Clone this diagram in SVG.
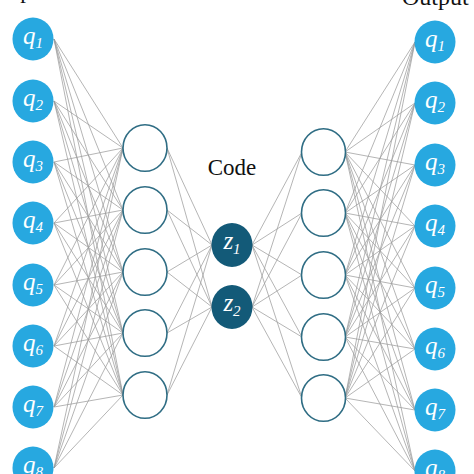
<svg xmlns="http://www.w3.org/2000/svg" width="474" height="474" viewBox="0 0 474 474">
<style>
.in{fill:#27a8e0;}
.hid{fill:#ffffff;stroke:#2f6d84;stroke-width:1.6;}
.code{fill:#135a78;}
.lbl{font-family:"Liberation Serif",serif;font-style:italic;font-size:25px;fill:#ffffff;text-anchor:middle;}
.sub{font-size:15px;}
.title{font-family:"Liberation Serif",serif;font-size:23px;fill:#111111;}
.conn{fill:none;stroke:#9c9c9c;stroke-width:0.75;}
</style>
<rect width="474" height="474" fill="#ffffff"/>
<g id="connectors" class="conn">
<path d="M54 39L123 148M54 39L123 210M54 39L123 272M54 39L123 333M54 39L123 395
M54 101L123 148M54 101L123 210M54 101L123 272M54 101L123 333M54 101L123 395
M54 162L123 148M54 162L123 210M54 162L123 272M54 162L123 333M54 162L123 395
M54 223L123 148M54 223L123 210M54 223L123 272M54 223L123 333M54 223L123 395
M54 285L123 148M54 285L123 210M54 285L123 272M54 285L123 333M54 285L123 395
M54 346L123 148M54 346L123 210M54 346L123 272M54 346L123 333M54 346L123 395
M54 407L123 148M54 407L123 210M54 407L123 272M54 407L123 333M54 407L123 395
M54 468L123 148M54 468L123 210M54 468L123 272M54 468L123 333M54 468L123 395"/>
<path d="M167 148L212 245M167 148L212 307M167 210L212 245M167 210L212 307M167 272L212 245M167 272L212 307M167 333L212 245M167 333L212 307M167 395L212 245M167 395L212 307"/>
<path d="M252 245L302 152M252 245L302 213M252 245L302 275M252 245L302 337M252 245L302 398M252 307L302 152M252 307L302 213M252 307L302 275M252 307L302 337M252 307L302 398"/>
<path d="M345 152L415 42M345 152L415 103M345 152L415 165M345 152L415 226M345 152L415 288M345 152L415 349M345 152L415 410M345 152L415 471
M345 213L415 42M345 213L415 103M345 213L415 165M345 213L415 226M345 213L415 288M345 213L415 349M345 213L415 410M345 213L415 471
M345 275L415 42M345 275L415 103M345 275L415 165M345 275L415 226M345 275L415 288M345 275L415 349M345 275L415 410M345 275L415 471
M345 337L415 42M345 337L415 103M345 337L415 165M345 337L415 226M345 337L415 288M345 337L415 349M345 337L415 410M345 337L415 471
M345 398L415 42M345 398L415 103M345 398L415 165M345 398L415 226M345 398L415 288M345 398L415 349M345 398L415 410M345 398L415 471"/>
</g>
<text class="title" x="1" y="-2">Input</text>
<text class="title" x="402" y="5" style="font-size:24px">Output</text>
<text class="title" x="232" y="175" text-anchor="middle">Code</text>
<g id="in1"><ellipse class="in" cx="33" cy="39" rx="20.5" ry="21.5"/><text class="lbl" x="33" y="44">q<tspan class="sub" dy="4">1</tspan></text></g>
<g id="in2"><ellipse class="in" cx="33" cy="101" rx="20.5" ry="21.5"/><text class="lbl" x="33" y="106">q<tspan class="sub" dy="4">2</tspan></text></g>
<g id="in3"><ellipse class="in" cx="33" cy="162" rx="20.5" ry="21.5"/><text class="lbl" x="33" y="167">q<tspan class="sub" dy="4">3</tspan></text></g>
<g id="in4"><ellipse class="in" cx="33" cy="223" rx="20.5" ry="21.5"/><text class="lbl" x="33" y="228">q<tspan class="sub" dy="4">4</tspan></text></g>
<g id="in5"><ellipse class="in" cx="33" cy="285" rx="20.5" ry="21.5"/><text class="lbl" x="33" y="290">q<tspan class="sub" dy="4">5</tspan></text></g>
<g id="in6"><ellipse class="in" cx="33" cy="346" rx="20.5" ry="21.5"/><text class="lbl" x="33" y="351">q<tspan class="sub" dy="4">6</tspan></text></g>
<g id="in7"><ellipse class="in" cx="33" cy="407" rx="20.5" ry="21.5"/><text class="lbl" x="33" y="412">q<tspan class="sub" dy="4">7</tspan></text></g>
<g id="in8"><ellipse class="in" cx="33" cy="468" rx="20.5" ry="21.5"/><text class="lbl" x="33" y="473">q<tspan class="sub" dy="4">8</tspan></text></g>
<g id="h1a"><ellipse class="hid" cx="145" cy="148" rx="22" ry="23.3"/></g>
<g id="h1b"><ellipse class="hid" cx="145" cy="210" rx="22" ry="23.3"/></g>
<g id="h1c"><ellipse class="hid" cx="145" cy="272" rx="22" ry="23.3"/></g>
<g id="h1d"><ellipse class="hid" cx="145" cy="333" rx="22" ry="23.3"/></g>
<g id="h1e"><ellipse class="hid" cx="145" cy="395" rx="22" ry="23.3"/></g>
<g id="z1"><ellipse class="code" cx="232" cy="245" rx="20.5" ry="22"/><text class="lbl" x="232" y="249">z<tspan class="sub" dy="5">1</tspan></text></g>
<g id="z2"><ellipse class="code" cx="232" cy="307" rx="20.5" ry="22"/><text class="lbl" x="232" y="311">z<tspan class="sub" dy="5">2</tspan></text></g>
<g id="h2a"><ellipse class="hid" cx="323.5" cy="152" rx="22" ry="23.3"/></g>
<g id="h2b"><ellipse class="hid" cx="323.5" cy="213" rx="22" ry="23.3"/></g>
<g id="h2c"><ellipse class="hid" cx="323.5" cy="275" rx="22" ry="23.3"/></g>
<g id="h2d"><ellipse class="hid" cx="323.5" cy="337" rx="22" ry="23.3"/></g>
<g id="h2e"><ellipse class="hid" cx="323.5" cy="398" rx="22" ry="23.3"/></g>
<g id="out1"><ellipse class="in" cx="435" cy="42" rx="20.5" ry="21.5"/><text class="lbl" x="435" y="47">q<tspan class="sub" dy="4">1</tspan></text></g>
<g id="out2"><ellipse class="in" cx="435" cy="103" rx="20.5" ry="21.5"/><text class="lbl" x="435" y="108">q<tspan class="sub" dy="4">2</tspan></text></g>
<g id="out3"><ellipse class="in" cx="435" cy="165" rx="20.5" ry="21.5"/><text class="lbl" x="435" y="170">q<tspan class="sub" dy="4">3</tspan></text></g>
<g id="out4"><ellipse class="in" cx="435" cy="226" rx="20.5" ry="21.5"/><text class="lbl" x="435" y="231">q<tspan class="sub" dy="4">4</tspan></text></g>
<g id="out5"><ellipse class="in" cx="435" cy="288" rx="20.5" ry="21.5"/><text class="lbl" x="435" y="293">q<tspan class="sub" dy="4">5</tspan></text></g>
<g id="out6"><ellipse class="in" cx="435" cy="349" rx="20.5" ry="21.5"/><text class="lbl" x="435" y="354">q<tspan class="sub" dy="4">6</tspan></text></g>
<g id="out7"><ellipse class="in" cx="435" cy="410" rx="20.5" ry="21.5"/><text class="lbl" x="435" y="415">q<tspan class="sub" dy="4">7</tspan></text></g>
<g id="out8"><ellipse class="in" cx="435" cy="471" rx="20.5" ry="21.5"/><text class="lbl" x="435" y="476">q<tspan class="sub" dy="4">8</tspan></text></g>
</svg>
